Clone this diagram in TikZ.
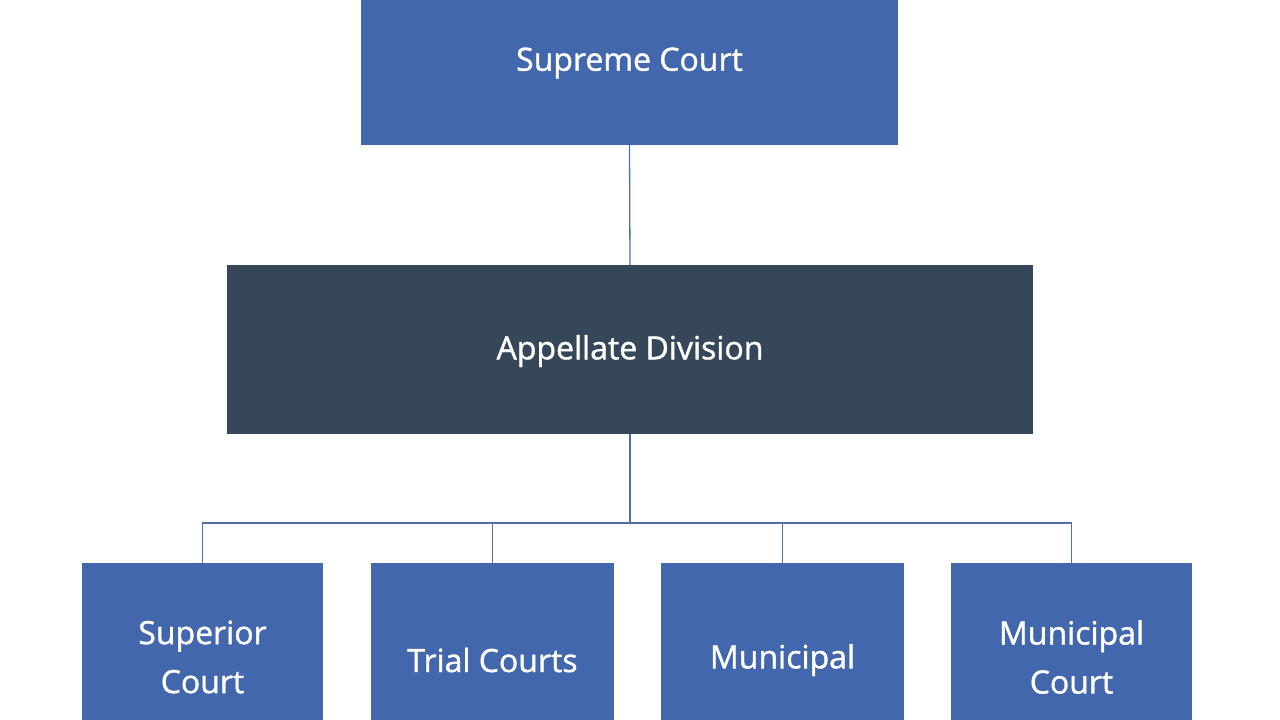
\documentclass[tikz,border=0pt]{standalone}
\usepackage{fontspec}
\setmainfont[FakeBold=1.2]{Open Sans}
\definecolor{cblue}{RGB}{66,103,172}
\definecolor{cdark}{RGB}{54,71,90}
\definecolor{cline}{RGB}{80,110,170}
\begin{document}
\begin{tikzpicture}[x=1pt,y=-1pt,
  box/.style={draw=none,fill=cblue,text=white,font=\fontsize{32}{49}\selectfont,align=center,inner sep=0pt},
  lbl/.style={text=white,font=\fontsize{32}{49}\selectfont,align=center},
  conn/.style={draw=cline,line width=1.3pt}]
\useasboundingbox (0,0) rectangle (1280,720);
\clip (0,0) rectangle (1280,720);
\node[box,minimum width=537,minimum height=165] (sc) at (629.5,62.5) {};
\node[lbl] at (629.5,63) {Supreme Court};
\node[box,fill=cdark,minimum width=806,minimum height=169] (ad) at (630,349.5) {};
\node[lbl] at (630,351) {Appellate Division};
\node[box,minimum width=241,minimum height=188] (b1) at (202.5,657) {};
\node[box,minimum width=243,minimum height=188] (b2) at (492.5,657) {};
\node[box,minimum width=243,minimum height=188] (b3) at (782.5,657) {};
\node[box,minimum width=241,minimum height=188] (b4) at (1071.5,657) {};
\node[lbl] at (202.5,657) {Superior\\Court};
\node[lbl] at (492.5,660) {Trial Courts};
\node[lbl] at (782.5,660) {Municipal};
\node[lbl] at (1071.5,657) {Municipal\\Court};
\coordinate (j) at (630,523);
\draw[conn] (sc.south) -- (ad.north);
\draw[conn] (ad.south) -- (j);
\draw[conn] (b1.north) |- (j) -| (b4.north);
\draw[conn] (b2.north) -- (b2.north |- j);
\draw[conn] (b3.north) -- (b3.north |- j);
\end{tikzpicture}
\end{document}
